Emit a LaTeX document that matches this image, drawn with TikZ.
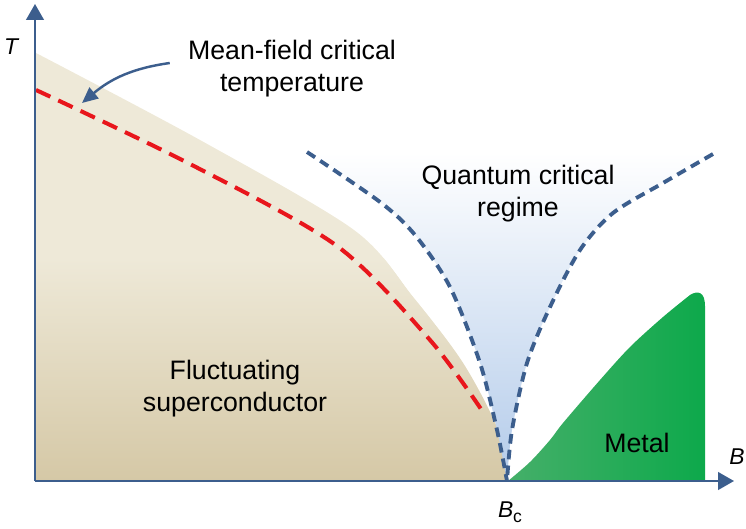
\documentclass[tikz,border=0pt]{standalone}
\usepackage{fontspec}
\setmainfont{Liberation Sans}
\usetikzlibrary{arrows.meta,positioning}
\definecolor{axisblue}{HTML}{3C5E8D}
\definecolor{sclight}{HTML}{EEE9D8}
\definecolor{scdark}{HTML}{D5C8A6}
\definecolor{qcblue}{HTML}{B3CBEA}
\definecolor{metalgreen}{HTML}{0DA94B}
\definecolor{metallight}{HTML}{45AF69}
\definecolor{mfred}{HTML}{E8161C}
\tikzset{
  axis/.style={draw=axisblue, line width=1.1pt, -{Triangle[width=10pt,length=9pt]}},
  lbl/.style={font=\fontsize{15.2pt}{18.2pt}\selectfont, align=center, inner sep=0pt},
  axlbl/.style={font=\fontsize{13pt}{15pt}\selectfont\itshape, inner sep=0pt},
  mfline/.style={mfred, line width=2.3pt, dash pattern=on 9pt off 5pt},
  qcline/.style={axisblue, line width=2.2pt, dash pattern=on 5.5pt off 3.5pt},
  callout/.style={draw=axisblue, line width=1.4pt, -{Triangle[width=8pt,length=9pt]}},
}

\begin{document}
\begin{tikzpicture}[x=0.02cm,y=0.02cm]
  \useasboundingbox (0,0) rectangle (746,528);

  \begin{scope}
    \clip plot[smooth] coordinates {(36,475) (200,388) (354,298) (413,231) (463,165) (498,98) (507,47)} -- (36,47) -- cycle;
    \fill[sclight] (36,47) rectangle (510,480);
    \shade[top color=sclight, bottom color=scdark] (36,47) rectangle (510,270);
  \end{scope}

  \shade[top color=white, bottom color=qcblue]
    plot[smooth] coordinates {(307,376) (380,326) (415,293) (450,241) (480,165) (497,98) (507,47)}
    -- plot[smooth] coordinates {(507,47) (512,98) (527,165) (550,221) (580,278) (613,315) (663,345) (713,374)}
    -- cycle;

  \shade[left color=metallight, right color=metalgreen]
    plot[smooth] coordinates {(508,47) (530,66) (550,88) (563,105) (600,148) (630,181) (663,211) (690,233)}
    .. controls (698,238) and (705,236) .. (705,222) -- (705,47) -- cycle;

  \draw[qcline] plot[smooth] coordinates {(307,376) (380,326) (415,293) (450,241) (480,165) (497,98) (507,47)};
  \draw[qcline] plot[smooth] coordinates {(713,374) (663,345) (613,315) (580,278) (550,221) (527,165) (512,98) (507,47)};
  \draw[mfline] plot[smooth] coordinates {(36,438) (190,364) (337,282) (430,188) (483,116)};

  \coordinate (O) at (35,47);
  \coordinate (Ttip) at (35,524);
  \coordinate (Btip) at (734,47);
  \draw[axis] (O) -- (Ttip);
  \draw[axis] (O) -- (Btip);

  \node[axlbl] (T) at (11,481) {T};
  \node[axlbl] (B) at (737,71) {B};
  \node[axlbl] (Bc) at (510,16) {B\raisebox{-0.4ex}{\upshape\fontsize{10pt}{10pt}\selectfont c}};

  \node[lbl] (mf) at (292,459) {Mean-field critical\\temperature};
  \node[lbl] (qc) at (518,334) {Quantum critical\\regime};
  \node[lbl] (fs) at (235,139) {Fluctuating\\superconductor};
  \node[lbl] (metal) at (637,85) {Metal};

  \coordinate (mfhead) at (82,425);
  \draw[callout] ([xshift=-0.36cm,yshift=0.12cm]mf.west) to[out=188,in=40] (mfhead);
\end{tikzpicture}
\end{document}
